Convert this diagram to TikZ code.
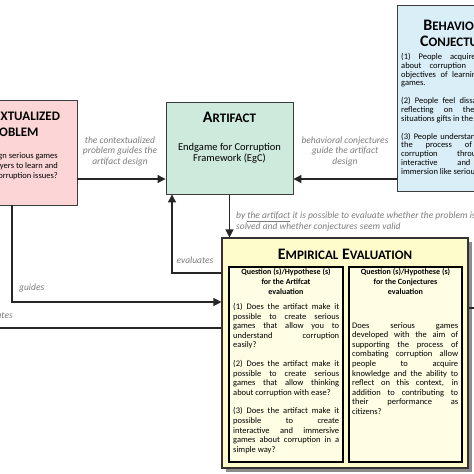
\documentclass[tikz,border=0pt]{standalone}
\usepackage{fontspec}
\setmainfont{Carlito}
\usetikzlibrary{positioning,arrows.meta,shadows}

\definecolor{probfill}{RGB}{252,214,214}
\definecolor{artfill}{RGB}{206,234,221}
\definecolor{behfill}{RGB}{218,238,248}
\definecolor{evalfill}{RGB}{255,252,204}
\definecolor{qfill}{RGB}{255,254,228}
\definecolor{framegray}{RGB}{60,60,60}
\definecolor{labelgray}{RGB}{125,125,125}

% big first letter, small capitals after it
\newcommand\capsword[2]{{\fontsize{16}{17}\selectfont #1}{\fontsize{13}{17}\selectfont #2}}

\hyphenpenalty=10000
\exhyphenpenalty=10000
\tolerance=9999
\hbadness=10000

\begin{document}
\begin{tikzpicture}[x=1pt,y=-1pt,
  framebox/.style={draw=framegray, line width=0.9pt, inner sep=0pt},
  qbox/.style={draw=black, line width=1.4pt, fill=qfill, inner sep=0pt},
  headtitle/.style={font=\bfseries\fontsize{16}{16.5}\selectfont, align=center, inner sep=0pt},
  qhead/.style={font=\bfseries\fontsize{8}{10}\selectfont, align=center, inner sep=0pt},
  bodytext/.style={font=\fontsize{8.5}{9.6}\selectfont, text width=106pt, align=justify, inner sep=0pt},
  edgelabel/.style={font=\itshape\fontsize{9.5}{10.5}\selectfont, text=labelgray, inner sep=0pt},
  flow/.style={draw=black!85, line width=1.2pt, -{Triangle[length=8pt,width=8pt]}},
  plainline/.style={draw=black!85, line width=1.2pt}]

\useasboundingbox (0,0) rectangle (474,474);

% problem, artifact, conjectures
\node[framebox, fill=probfill, minimum width=132pt, minimum height=105pt] (prob) at (11,152.5) {};
\node[headtitle, below=10pt of prob.north] (probtitle) {\capsword{C}{ONTEXTUALIZED}\\\capsword{P}{ROBLEM}};
\node[font=\fontsize{8.5}{10}\selectfont, align=right, inner sep=0pt, anchor=north east] (probtext) at (58,152)
  {How to design serious games\\for players to learn and\\reflect on corruption issues?};

\node[framebox, fill=artfill, minimum width=127pt, minimum height=92pt] (art) at (229.5,148) {};
\node[headtitle, below=10.5pt of art.north] (arttitle) {\capsword{A}{RTIFACT}};
\node[font=\fontsize{10.5}{11.5}\selectfont, align=center, inner sep=0pt, below=20pt of arttitle] (arttext)
  {Endgame for Corruption\\Framework (EgC)};

\node[framebox, fill=behfill, minimum width=140pt, minimum height=186pt] (beh) at (467,98) {};
\node[headtitle, below=15pt of beh.north] (behtitle) at ([xshift=-8pt]beh.north) {\capsword{B}{EHAVIORAL}\\\capsword{C}{ONJECTURES}};
\node[bodytext, font=\fontsize{8.5}{8.8}\selectfont, text width=120pt, anchor=north west] (behtext) at (401,53) {
(1) People acquire knowledge\linebreak about corruption through the\linebreak objectives of learning of serious\linebreak games.\par\vspace{9pt}
(2) People feel dissatisfied when\linebreak reflecting on the corruption\linebreak situations gifts in the games.\par\vspace{9pt}
(3) People understand and reflect\linebreak the process of combating\linebreak corruption through tools\linebreak interactive and engaging\linebreak immersion like serious games.};

% empirical evaluation
\node[framebox, draw=black!80, line width=1.1pt, fill=evalfill, minimum width=246pt, minimum height=230pt,
  drop shadow={shadow xshift=3.5pt, shadow yshift=-3.5pt, fill=black!45, opacity=1}] (eval) at (345,353) {};
\node[headtitle, below=11pt of eval.north] (evaltitle) {\capsword{E}{MPIRICAL} \capsword{E}{VALUATION}};

\node[qbox, minimum width=114pt, minimum height=195pt] (qart) at (286,364.5) {};
\node[qbox, minimum width=113pt, minimum height=195pt] (qconj) at (405.5,364.5) {};

\node[qhead, below=2pt of qart.north] (qarthead) {Question (s)/Hypothese (s)\\for the Artifcat\\evaluation};
\node[qhead, below=2pt of qconj.north] (qconjhead) {Question (s)/Hypothese (s)\\for the Conjectures\\evaluation};

\node[bodytext, anchor=north west] (qarttext) at (233,303) {
(1) Does the artifact make it\linebreak possible to create serious\linebreak games that allow you to\linebreak understand corruption\linebreak easily?\par\vspace{9pt}
(2) Does the artifact make it\linebreak possible to create serious\linebreak games that allow thinking\linebreak about corruption with ease?\par\vspace{9pt}
(3) Does the artifact make it\linebreak possible to create\linebreak interactive and immersive\linebreak games about corruption in a\linebreak simple way?};

\node[bodytext, anchor=north west] (qconjtext) at (352,322) {
Does serious games\linebreak developed with the aim of\linebreak supporting the process of\linebreak combating corruption allow\linebreak people to acquire\linebreak knowledge and the ability to\linebreak reflect on this context, in\linebreak addition to contributing to\linebreak their performance as\linebreak citizens?};

% labels on the connectors
\node[edgelabel, align=center] (lblprob) at (120,151.5) {the contextualized\\problem guides the\\artifact design};
\node[edgelabel, align=center] (lblbeh) at (345,151.5) {behavioral conjectures\\guide the artifact\\design};
\node[edgelabel, align=left, anchor=north west] (lblart) at (236,212)
  {by \underline{the artifact} it is possible to evaluate whether the problem is\\solved and whether conjectures seem valid};
\node[edgelabel] (lblev) at (195,260) {evaluates};
\node[edgelabel, anchor=west] (lblgd) at (19,288) {guides};
\node[edgelabel, anchor=east] (lblout) at (13,315) {evaluates};

% connectors
\coordinate (lvl) at (0,179);
\coordinate (evin) at (172,273);
\coordinate (gd) at (12,302);
\coordinate (outl) at (-20,328);
\coordinate (outr) at (500,308);

\draw[flow] (prob.east |- lvl) -- (art.west |- lvl);
\draw[flow] (beh.west |- lvl) -- (art.east |- lvl);
\draw[flow] (art.south) -- (art.south |- eval.north);
\draw[flow] (eval.west |- evin) -| (art.south -| evin);
\draw[flow] (prob.south -| gd) |- (eval.west |- gd);
\draw[plainline] (eval.west |- outl) -- (outl);
\draw[plainline] (eval.east |- outr) -- (outr);
\end{tikzpicture}
\end{document}
